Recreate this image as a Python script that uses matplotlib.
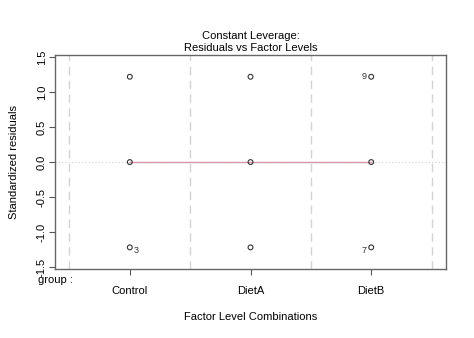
import matplotlib
matplotlib.use("Agg")
import matplotlib.pyplot as plt
import numpy as np

plt.rcParams['font.family'] = ['Liberation Sans', 'DejaVu Sans']

groups = ["Control", "DietA", "DietB"]
pos = [1, 2, 3]
# standardized residuals per group (3 obs each)
resid = {
    "Control": [1.22, 0.0, -1.22],
    "DietA": [1.22, 0.0, -1.22],
    "DietB": [1.22, 0.0, -1.22],
}
smooth_y = [0.0, 0.0, 0.0]
yticks = [-1.5, -1.0, -0.5, 0.0, 0.5, 1.0, 1.5]

fs = 8.0
fig = plt.figure(figsize=(4.74, 3.38), dpi=100)
ax = fig.add_axes([0.116, 0.204, 0.825, 0.633])

for b in [0.5, 1.5, 2.5, 3.5]:
    ax.axvline(b, color="#d3d3d3", lw=1.0, ls=(0, (6, 4)), zorder=1)
ax.axhline(0, color="#d3d3d3", lw=0.8, ls=(0, (1, 2)), zorder=1)
ax.plot(pos, smooth_y, color="#d895a8", lw=1.0, zorder=2)

for p, g in zip(pos, groups):
    ys = resid[g]
    ax.scatter([p] * len(ys), ys, s=12, facecolors="none", edgecolors="#333333",
               linewidths=0.8, zorder=3)

ax.text(1 + 0.035, -1.22 - 0.05, "3", fontsize=6.5, ha="left", va="center", color="#333333")
ax.text(3 - 0.035, 1.22, "9", fontsize=6.5, ha="right", va="center", color="#333333")
ax.text(3 - 0.035, -1.22 - 0.05, "7", fontsize=6.5, ha="right", va="center", color="#333333")

ax.set_xlim(0.38, 3.62)
ax.set_ylim(-1.53, 1.53)
ax.set_yticks(yticks)
ax.set_yticklabels([f"{v:.1f}" for v in yticks], rotation=90, va="center", fontsize=fs)
ax.set_xticks(pos)
ax.set_xticklabels(groups, fontsize=fs)
ax.tick_params(axis="x", length=4, pad=8, color="#555555")
ax.tick_params(axis="y", length=4, pad=2, color="#555555")
for s in ax.spines.values():
    s.set_color("#666666")
    s.set_linewidth(1.0)

ax.set_ylabel("Standardized residuals", fontsize=fs, labelpad=13)
ax.set_xlabel("Factor Level Combinations", fontsize=fs, labelpad=12)
ax.set_title("Constant Leverage:\nResiduals vs Factor Levels", fontsize=fs, pad=3, linespacing=1.25)
fig.text(0.116, 0.172, "group :", fontsize=fs, ha="center", va="center")

fig.savefig("out.png", dpi=100)
